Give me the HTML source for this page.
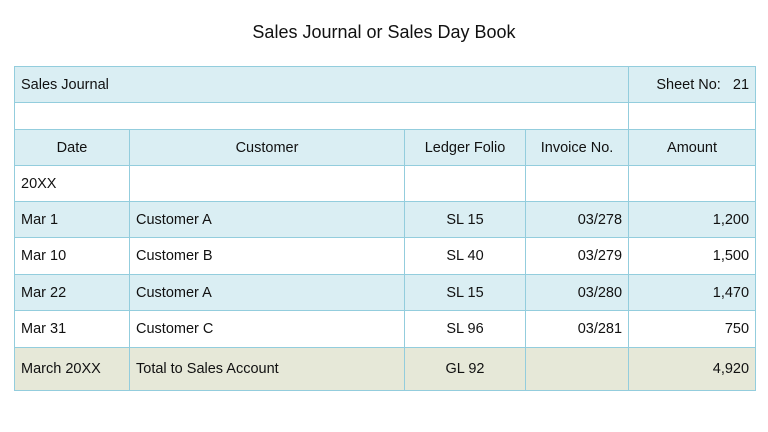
<!DOCTYPE html>
<html><head><meta charset="utf-8"><style>
body{margin:0;width:768px;height:432px;background:#fff;font-family:"Liberation Sans",Arial,sans-serif;color:#111;position:relative;overflow:hidden}
#title{position:absolute;top:22px;left:0;width:768px;text-align:center;font-size:18px}
table{position:absolute;left:14px;top:66px;width:741px;border-collapse:collapse;table-layout:fixed;font-size:14.5px}
td{border:1px solid #93CDDD;padding:0 6px;white-space:nowrap;overflow:hidden}
.b td{background:#DAEEF3}
.t td{background:#E6E8D8}
.c{text-align:center}.r{text-align:right}
</style></head><body>
<div id="title">Sales Journal or Sales Day Book</div>
<table>
<colgroup><col style="width:115px"><col style="width:275px"><col style="width:121px"><col style="width:103px"><col style="width:127px"></colgroup>
<tr class="b" style="height:36px"><td colspan="4">Sales Journal</td><td class="r">Sheet No:&nbsp;&nbsp; 21</td></tr>
<tr style="height:27px"><td colspan="4"></td><td></td></tr>
<tr class="b c" style="height:36px"><td class="c">Date</td><td class="c">Customer</td><td class="c">Ledger Folio</td><td class="c">Invoice No.</td><td class="c">Amount</td></tr>
<tr style="height:36px"><td>20XX</td><td></td><td></td><td></td><td></td></tr>
<tr class="b" style="height:36px"><td>Mar 1</td><td>Customer A</td><td class="c">SL 15</td><td class="r">03/278</td><td class="r">1,200</td></tr>
<tr style="height:37px"><td>Mar 10</td><td>Customer B</td><td class="c">SL 40</td><td class="r">03/279</td><td class="r">1,500</td></tr>
<tr class="b" style="height:36px"><td>Mar 22</td><td>Customer A</td><td class="c">SL 15</td><td class="r">03/280</td><td class="r">1,470</td></tr>
<tr style="height:37px"><td>Mar 31</td><td>Customer C</td><td class="c">SL 96</td><td class="r">03/281</td><td class="r">750</td></tr>
<tr class="t" style="height:43px"><td>March 20XX</td><td>Total to Sales Account</td><td class="c">GL 92</td><td></td><td class="r">4,920</td></tr>
</table>
</body></html>
